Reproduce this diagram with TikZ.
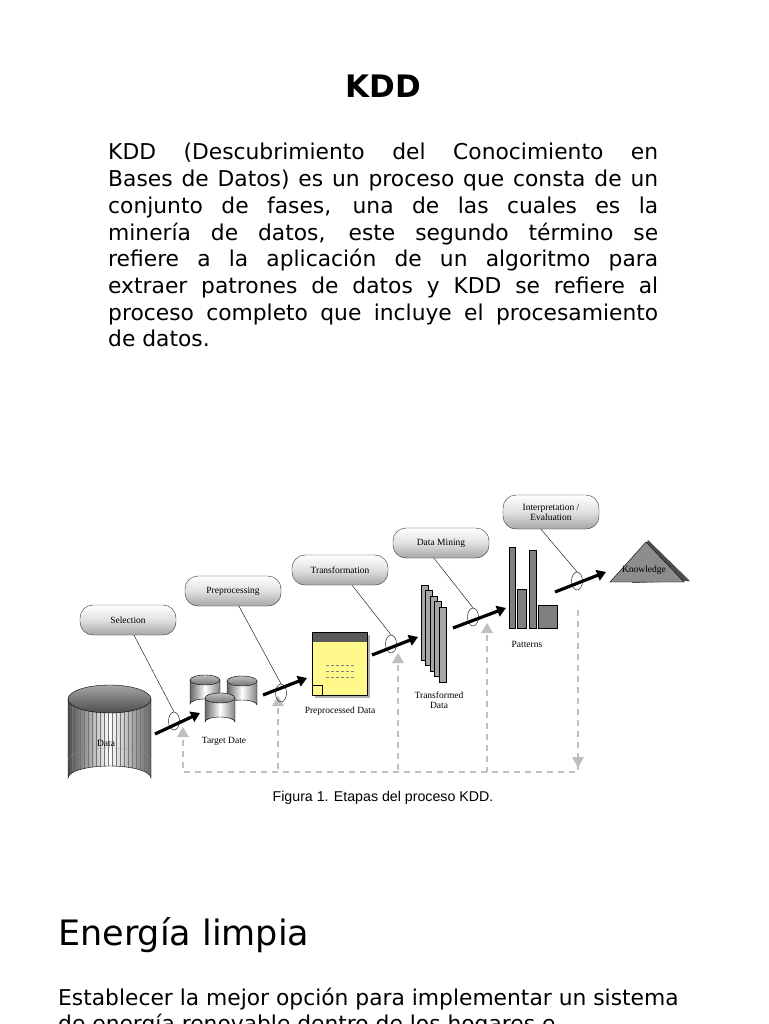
\documentclass[tikz,border=0pt]{standalone}
\usepackage{fontspec}
\setmainfont{DejaVu Sans}
\newfontfamily\serifd{Liberation Serif}
\newfontfamily\arialf{Liberation Sans}
\usetikzlibrary{arrows.meta,shapes.geometric}
\begin{document}
\begin{tikzpicture}[x=1pt,y=-1pt,
  stage/.style={draw=black!80,rounded corners=13pt,top color=white,bottom color=black!35,middle color=black!12,minimum width=96pt,minimum height=30pt,font=\serifd\fontsize{9.5}{10}\selectfont,align=center,inner sep=1pt},
  oval/.style={draw,ellipse,minimum width=11pt,minimum height=18pt,inner sep=0pt},
  thick arrow/.style={line width=3.2pt,-{Triangle[length=9pt,width=11pt]}},
  feedback/.style={draw=black!25,line width=2.2pt,dash pattern=on 6pt off 5pt},
  fbtip/.style={fill=black!25,draw=none},
  lab/.style={font=\serifd\fontsize{9.5}{10}\selectfont,align=center},
  bodyl/.style={anchor=base west,inner sep=0pt,font=\fontsize{21.8}{26}\selectfont}]
\clip (0,0) rectangle (768,1024);
\fill[white] (0,0) rectangle (768,1024);
\node[font=\bfseries\fontsize{31}{34}\selectfont] (title) at (383,86) {KDD};
\foreach \t [count=\i from 0] in {KDD (Descubrimiento del Conocimiento en,Bases de Datos) es un proceso que consta de un,{conjunto de fases, una de las cuales es la},{minería de datos, este segundo término se},refiere a la aplicación de un algoritmo para,extraer patrones de datos y KDD se refiere al,proceso completo que incluye el procesamiento}
  \node[bodyl] (b\i) at (108,{160+26.7*\i}) {\makebox[550pt][s]{\t}};
\node[bodyl] (b7) at (108,{160+26.7*7}) {de datos.};
% stage boxes
\node[stage] (sel) at (128,620) {Selection};
\node[stage] (pre) at (233,591) {Preprocessing};
\node[stage] (tra) at (340,570) {Transformation};
\node[stage] (dm) at (441,543) {Data Mining};
\node[stage,minimum height=34pt] (ie) at (551,512) {Interpretation /\\Evaluation};
% feedback dashed
\draw[feedback] (183,740) -- (183,772) -- (578,772) -- (578,605);
\draw[feedback] (278,708) -- (278,772);
\draw[feedback] (398,665) -- (398,772);
\draw[feedback] (487,635) -- (487,772);
\foreach \x/\y in {183/727,278/696,398/653,487/623} \fill[fbtip] (\x-6,\y+10) -- (\x,\y) -- (\x+6,\y+10) -- cycle;
\fill[fbtip] (572,757) -- (578,768) -- (584,757) -- cycle;
% Data cylinder
\begin{scope}
\clip (68,699) -- (68,778) arc[start angle=180,end angle=360,x radius=41.5,y radius=12] -- (151,699) -- cycle;
\shade[left color=black!70,right color=black!60,middle color=white] (68,699) rectangle (151,792);
\foreach \xx in {72,76,...,148} \draw[black!55,very thin] (\xx,706) -- (\xx,792);
\draw[black!40,very thin] (68,760) arc[start angle=180,end angle=360,x radius=41.5,y radius=12];
\end{scope}
\draw (68,699) -- (68,778) arc[start angle=180,end angle=360,x radius=41.5,y radius=12] -- (151,699);
\shade[draw=black,top color=black!35,bottom color=black!70] (109.5,699) ellipse[x radius=41.5,y radius=14];
\node[lab] (data) at (106,743) {Data};
% target cylinders
\foreach \cx/\cy [count=\k] in {205/680,242/681,220/698}{
  \shade[draw,left color=black!60,right color=black!50,middle color=white] (\cx-15,\cy) -- (\cx-15,\cy+24) arc[start angle=180,end angle=360,x radius=15,y radius=5] -- (\cx+15,\cy) -- cycle;
  \shade[draw,top color=black!25,bottom color=black!55] (\cx,\cy) ellipse[x radius=15,y radius=5];
}
\node[lab] (tgt) at (224,741) {Target Date};
% preprocessed doc
\fill[black!30] (315,635) rectangle (370,698);
\draw[fill=yellow!45] (312,632) rectangle (367,695);
\fill[black!65] (312,632) rectangle (367,642);
\draw (312,632) rectangle (367,695);
\foreach \yy in {665,671,677} \draw[black!50,densely dashed,very thin] (326,\yy) -- (354,\yy);
\draw (312,685) -- (322,685) -- (322,695);
\node[lab] (ppd) at (340,711) {Preprocessed Data};
% transformed data stack
\foreach \i in {0,...,4} \draw[fill=black!35] ({421+4.5*\i},{585+5.5*\i}) rectangle ({428+4.5*\i},{660+5.5*\i});
\node[lab] (td) at (439,700) {Transformed\\Data};
% patterns
\draw[fill=black!50] (509,547) rectangle (515,628);
\draw[fill=black!50] (517,589) rectangle (526,628);
\draw[fill=black!50] (529,550) rectangle (536,628);
\draw[fill=black!50] (538,605) rectangle (557,628);
\node[lab] (pat) at (527,644) {Patterns};
% knowledge
\fill[black!70] (648,540) -- (690,581) -- (632,583) -- cycle;
\draw[fill=black!45] (646,542) -- (610,582) -- (684,582) -- cycle;
\node[lab] (kn) at (644,570) {Knowledge};
% ovals
\node[oval] (o1) at (174,721) {};
\node[oval] (o2) at (281,693) {};
\node[oval] (o3) at (391,644) {};
\node[oval] (o4) at (473,617) {};
\node[oval] (o5) at (577,581) {};
\coordinate (a1s) at (155,734); \coordinate (a1e) at (200,713);
\coordinate (a2s) at (263,695); \coordinate (a2e) at (307,678);
\coordinate (a3s) at (372,655); \coordinate (a3e) at (418,637);
\coordinate (a4s) at (453,628); \coordinate (a4e) at (506,608);
\coordinate (a5s) at (555,592); \coordinate (a5e) at (606,572);
\foreach \i in {1,...,5} \draw[thick arrow] (a\i s) -- (a\i e);
\draw[thin] (sel.south) ++(6,0) -- (o1.north);
\draw[thin] (pre.south) ++(6,0) -- (o2.north);
\draw[thin] (tra.south) ++(12,0) -- (o3.north);
\draw[thin] (dm.south) ++(-7,0) -- (o4.north);
\draw[thin] (ie.south) ++(-10,0) -- (o5.north);
\node[font=\arialf\fontsize{14.2}{16}\selectfont] (cap) at (383,798) {Figura 1. Etapas del proceso KDD.};
% second section
\node[anchor=base west,inner sep=0pt,font=\fontsize{35}{38}\selectfont] (h2) at (58,945) {Energía limpia};
\node[bodyl] (c0) at (58,1005) {Establecer la mejor opción para implementar un sistema};
\node[bodyl] (c1) at (58,1031) {de energía renovable dentro de los hogares e};
\end{tikzpicture}
\end{document}
